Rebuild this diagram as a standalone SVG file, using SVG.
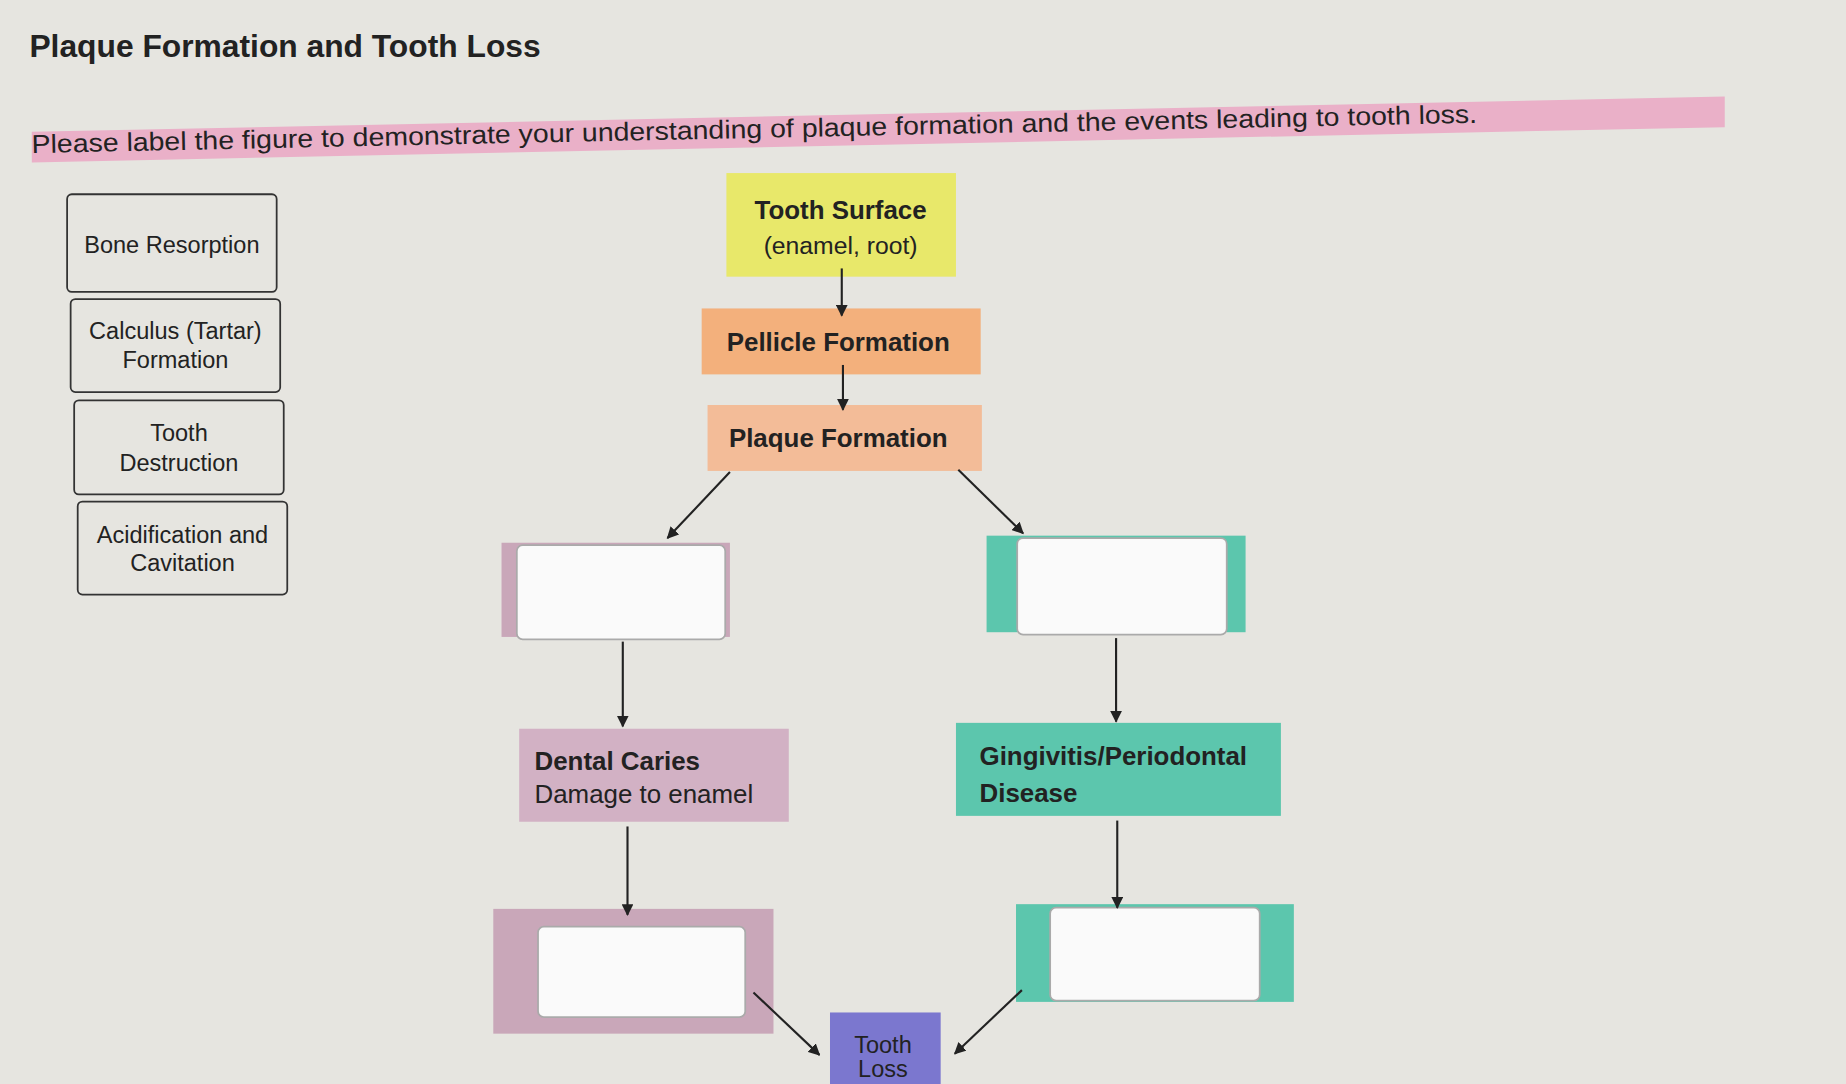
<svg xmlns="http://www.w3.org/2000/svg" width="1846" height="1084" viewBox="0 0 1846 1084">
<defs>
<marker id="ah" markerWidth="10" markerHeight="10" refX="9" refY="5" orient="auto" markerUnits="userSpaceOnUse"><path d="M0,0 L10,5 L0,10 z" fill="#222"/></marker>
<clipPath id="pg"><rect x="0" y="0" width="1568" height="921"/></clipPath>
</defs>
<style>
text{font-family:"Liberation Sans",Arial,sans-serif;fill:#222}
.lb{fill:none;stroke:#333;stroke-width:1.5}
.lt{font-size:20px;text-anchor:middle}
.bt{font-size:22px;font-weight:bold}
.c{stroke:#222;stroke-width:1.8;fill:none;marker-end:url(#ah)}
.w{fill:#fafafa;stroke:#aaa;stroke-width:1.5}
</style>
<rect width="1846" height="1084" fill="#e6e5e0"/>
<g transform="scale(1.1773)" clip-path="url(#pg)">
<text x="25" y="48" style="font-size:27px;font-weight:bold">Plaque Formation and Tooth Loss</text>
<polygon points="27,112 1465,82 1465,108 27,138" fill="#eab0c8"/>
<text x="27" y="130" transform="rotate(-1.2 27 130)" textLength="1228" lengthAdjust="spacingAndGlyphs" style="font-size:22px">Please label the figure to demonstrate your understanding of plaque formation and the events leading to tooth loss.</text>
<g id="opt1"><rect class="lb" x="57" y="165" width="178" height="83" rx="4"/><text class="lt" x="146" y="215">Bone Resorption</text></g>
<g id="opt2"><rect class="lb" x="60" y="254" width="178" height="79" rx="4"/><text class="lt" x="149" y="288">Calculus (Tartar)</text><text class="lt" x="149" y="313">Formation</text></g>
<g id="opt3"><rect class="lb" x="63" y="340" width="178" height="80" rx="4"/><text class="lt" x="152" y="375">Tooth</text><text class="lt" x="152" y="400">Destruction</text></g>
<g id="opt4"><rect class="lb" x="66" y="426" width="178" height="79" rx="4"/><text class="lt" x="155" y="461">Acidification and</text><text class="lt" x="155" y="485">Cavitation</text></g>
<g id="surface"><rect x="617" y="147" width="195" height="88" fill="#e8e86a"/><text class="bt" x="714" y="186" text-anchor="middle">Tooth Surface</text><text x="714" y="216" text-anchor="middle" style="font-size:21px">(enamel, root)</text></g>
<g id="pellicle"><rect x="596" y="262" width="237" height="56" fill="#f3b07c"/><text class="bt" x="712" y="298" text-anchor="middle">Pellicle Formation</text></g>
<g id="plaque"><rect x="601" y="344" width="233" height="56" fill="#f3bc98"/><text class="bt" x="712" y="380" text-anchor="middle">Plaque Formation</text></g>
<g id="leftBlank1"><rect x="426" y="461" width="194" height="80" fill="#c9a7b9"/><rect class="w" x="439" y="463" width="177" height="80" rx="5"/></g>
<g id="rightBlank1"><rect x="838" y="455" width="220" height="82" fill="#5cc6ad"/><rect class="w" x="864" y="457" width="178" height="82" rx="5"/></g>
<g id="caries"><rect x="441" y="619" width="229" height="79" fill="#d2b1c4"/><text class="bt" x="454" y="654">Dental Caries</text><text x="454" y="682" style="font-size:22px">Damage to enamel</text></g>
<g id="gingivitis"><rect x="812" y="614" width="276" height="79" fill="#5cc6ad"/><text class="bt" x="832" y="650">Gingivitis/Periodontal</text><text class="bt" x="832" y="681">Disease</text></g>
<g id="leftBlank2"><rect x="419" y="772" width="238" height="106" fill="#c9a7b9"/><rect class="w" x="457" y="787" width="176" height="77" rx="5"/></g>
<g id="rightBlank2"><rect x="863" y="768" width="236" height="83" fill="#5cc6ad"/><rect class="w" x="892" y="771" width="178" height="79" rx="5"/></g>
<g id="toothloss"><rect x="705" y="860" width="94" height="70" fill="#7b77cf"/><text x="750" y="894" text-anchor="middle" style="font-size:20px">Tooth</text><text x="750" y="915" text-anchor="middle" style="font-size:20px">Loss</text></g>
<g id="connectors">
<line class="c" x1="715" y1="228" x2="715" y2="268"/>
<line class="c" x1="716" y1="310" x2="716" y2="348"/>
<line class="c" x1="620" y1="401" x2="567" y2="457"/>
<line class="c" x1="814" y1="399" x2="869" y2="453"/>
<line class="c" x1="529" y1="545" x2="529" y2="617"/>
<line class="c" x1="948" y1="542" x2="948" y2="613"/>
<line class="c" x1="533" y1="702" x2="533" y2="777"/>
<line class="c" x1="949" y1="697" x2="949" y2="771"/>
<line class="c" x1="640" y1="843" x2="696" y2="896"/>
<line class="c" x1="868" y1="841" x2="811" y2="895"/>
</g>
</g>
</svg>
